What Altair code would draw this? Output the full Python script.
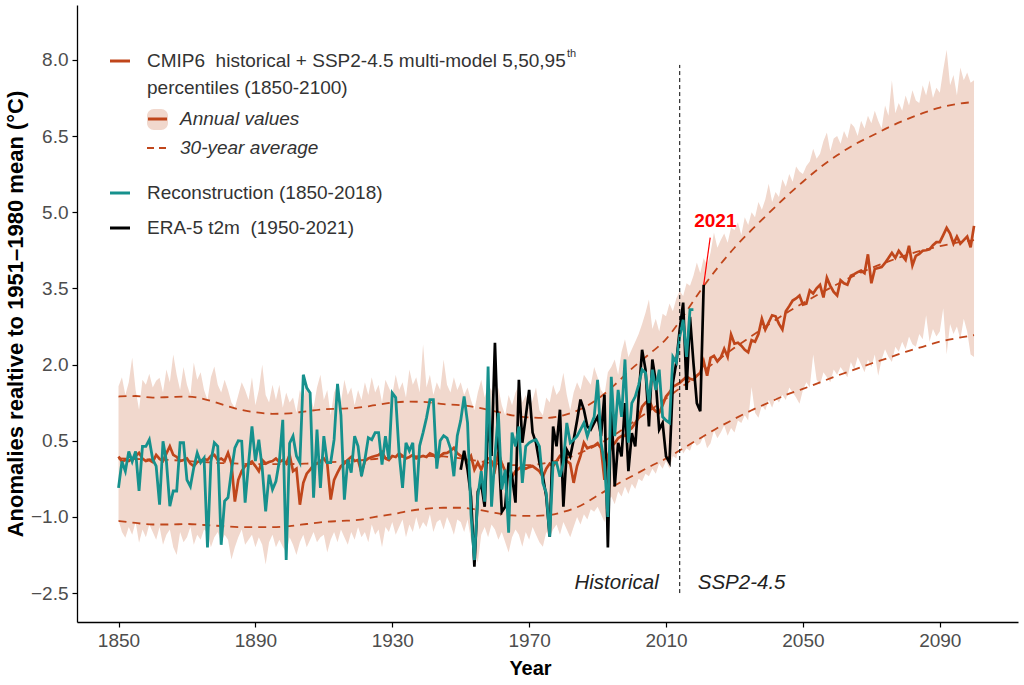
import altair as alt
import pandas as pd

# ---- CMIP6 historical + SSP2-4.5 multi-model percentiles, annual (1850-2100) ----
cmip_years = list(range(1850, 2101))
cmip_p50 = [
    0.19, 0.09, 0.12, 0.10, 0.15, 0.20, 0.26, 0.15, 0.10, 0.12,
    0.08, 0.22, 0.14, 0.10, 0.25, 0.39, 0.22, 0.18, 0.10, 0.12,
    0.15, 0.05, 0.00, 0.08, 0.10, 0.14, 0.12, 0.20, 0.22, 0.12,
    0.15, 0.10, 0.26, 0.05, -0.70, -0.27, -0.10, 0.00, 0.05, 0.09,
    0.00, -0.10, 0.12, 0.05, 0.08, 0.10, 0.15, 0.08, 0.12, 0.05,
    0.22, -0.10, -0.05, -0.76, -0.33, -0.15, -0.07, 0.02, 0.05, 0.10,
    0.15, 0.05, -0.66, -0.27, -0.13, 0.00, 0.05, 0.12, 0.18, 0.10,
    0.12, -0.13, 0.10, 0.15, 0.18, 0.20, 0.22, 0.28, 0.15, 0.12,
    0.20, 0.18, 0.25, 0.20, 0.15, 0.18, 0.22, 0.15, 0.18, 0.20,
    0.18, 0.25, 0.22, 0.15, 0.20, 0.25, 0.26, 0.30, 0.36, 0.25,
    0.20, 0.15, 0.10, 0.20, -0.07, 0.07, -0.07, 0.10, 0.15, 0.10,
    -0.07, 0.28, 0.05, -0.10, -0.20, -0.21, -0.10, -0.05, 0.00, -0.05,
    -0.02, 0.00, -0.05, -0.10, -0.21, -0.05, 0.05, 0.00, 0.10, 0.20,
    0.18, 0.10, 0.05, -0.33, 0.00, 0.20, 0.46, 0.35, 0.38, 0.40,
    0.45, 0.35, -0.27, 0.20, 0.38, 0.45, 0.55, 0.59, 0.60, 0.70,
    0.75, 0.85, 0.95, 1.17, 1.25, 1.31, 1.15, 1.08, 1.05, 1.20,
    1.37, 1.45, 1.56, 1.60, 1.64, 1.70, 1.76, 1.72, 1.70, 1.78,
    1.84, 2.06, 1.78, 2.13, 2.17, 2.06, 2.14, 2.31, 2.15, 2.59,
    2.41, 2.43, 2.37, 2.29, 2.24, 2.48, 2.45, 2.60, 2.90, 2.69,
    2.83, 2.97, 2.95, 2.80, 2.69, 3.05, 3.15, 3.26, 3.30, 3.36,
    3.18, 3.20, 3.46, 3.40, 3.50, 3.57, 3.32, 3.71, 3.55, 3.43,
    3.36, 3.66, 3.60, 3.57, 3.75, 3.78, 3.82, 3.85, 3.80, 4.17,
    3.60, 3.88, 3.90, 3.92, 4.00, 4.10, 4.20, 4.10, 4.24, 4.15,
    4.06, 4.34, 3.95, 4.14, 4.18, 4.24, 4.25, 4.27, 4.35, 4.41,
    4.41, 4.55, 4.69, 4.58, 4.38, 4.52, 4.38, 4.45, 4.52, 4.31,
    4.73,
]
cmip_p95 = [
    1.57, 1.75, 1.40, 1.65, 2.14, 1.50, 1.11, 1.70, 1.60, 1.82,
    1.55, 1.68, 1.74, 1.45, 1.90, 1.65, 2.20, 1.80, 1.50, 1.95,
    1.60, 1.40, 2.04, 1.70, 1.85, 1.50, 1.30, 1.75, 1.96, 1.60,
    1.45, 1.70, 1.50, 1.25, 1.15, 1.40, 1.65, 1.50, 1.30, 1.75,
    1.20, 1.50, 2.00, 1.40, 1.25, 1.60, 1.30, 1.60, 1.15, 1.45,
    1.25, 1.35, 1.05, 1.50, 1.30, 1.65, 1.40, 1.15, 1.55, 1.80,
    1.30, 1.50, 1.00, 1.45, 1.60, 1.25, 1.70, 1.40, 1.55, 1.20,
    1.50, 1.30, 1.65, 1.40, 1.75, 1.45, 1.60, 1.25, 1.70, 1.55,
    1.40, 1.80, 1.50, 1.65, 1.35, 1.90, 1.60, 1.75, 1.45, 2.40,
    1.55, 1.80, 1.40, 1.65, 1.50, 2.10, 1.60, 1.45, 1.75, 1.50,
    1.65, 1.40, 1.55, 1.30, 1.10, 1.45, 1.70, 1.35, 1.60, 1.50,
    1.25, 1.55, 1.20, 1.00, 1.40, 1.20, 1.45, 1.60, 1.25, 1.40,
    1.15, 1.30, 1.55, 1.10, 1.00, 1.35, 1.25, 1.60, 1.40, 1.50,
    1.84, 1.40, 1.10, 1.45, 1.65, 1.50, 1.80, 1.70, 1.60, 1.95,
    1.75, 1.50, 1.40, 1.85, 1.95, 2.10, 1.80, 2.25, 2.50, 2.15,
    2.30, 2.45, 2.60, 2.80, 3.02, 3.28, 2.70, 2.90, 2.65, 3.00,
    2.95, 3.20, 3.05, 3.30, 3.45, 3.35, 3.60, 3.55, 3.75, 4.01,
    3.80, 4.10, 3.95, 4.20, 4.60, 4.30, 4.45, 4.58, 4.40, 4.70,
    4.65, 4.80, 4.55, 4.90, 4.75, 5.00, 4.90, 5.20, 5.05, 5.25,
    5.56, 5.20, 5.40, 5.30, 5.65, 5.50, 5.75, 5.60, 5.90, 5.80,
    5.75, 5.91, 6.00, 6.25, 6.05, 6.15, 6.40, 6.57, 6.20, 6.45,
    6.50, 6.35, 6.60, 6.45, 6.75, 6.68, 6.50, 6.80, 6.65, 6.90,
    6.75, 7.00, 6.80, 6.65, 7.10, 6.90, 7.60, 6.95, 7.15, 7.00,
    7.30, 7.10, 7.40, 7.20, 7.15, 7.50, 7.30, 7.60, 7.25, 7.45,
    7.35, 7.80, 8.20, 7.50, 7.70, 7.30, 7.85, 7.60, 7.75, 7.55,
    7.60,
]
cmip_p05 = [
    -1.06, -1.30, -1.41, -1.20, -1.35, -1.10, -1.51, -1.25, -1.40, -1.15,
    -1.30, -1.45, -1.20, -1.55, -1.35, -1.25, -1.60, -1.75, -1.30, -1.50,
    -1.40, -1.20, -1.55, -1.35, -1.45, -1.25, -1.31, -1.60, -1.40, -1.30,
    -1.50, -1.35, -1.45, -1.84, -1.60, -1.40, -1.25, -1.55, -1.45, -1.35,
    -1.60, -1.40, -1.55, -1.94, -1.50, -1.35, -1.60, -1.45, -1.59, -1.70,
    -1.40, -1.55, -1.75, -1.50, -1.35, -1.60, -1.45, -1.30, -1.50, -1.40,
    -1.35, -1.70, -1.45, -1.30, -1.50, -1.25, -1.40, -1.55, -1.30, -1.45,
    -1.20, -1.40, -1.30, -1.50, -1.15, -1.35, -1.25, -1.60, -1.20, -1.30,
    -1.10, -1.35, -1.20, -1.05, -1.40, -1.15, -1.30, -1.00, -1.25, -1.10,
    -1.20, -0.95, -1.30, -1.10, -1.05, -1.25, -1.00, -1.15, -1.35, -1.05,
    -1.10, -1.30, -1.05, -1.45, -1.70, -1.90, -1.35, -1.20, -1.40, -1.15,
    -1.25, -1.45, -1.30, -1.50, -1.70, -1.40, -1.25, -1.35, -1.59, -1.30,
    -1.45, -1.20, -1.35, -1.50, -1.59, -1.30, -1.40, -1.25, -1.15, -1.35,
    -1.10, -1.25, -1.40, -1.20, -1.00, -1.15, -0.95, -1.05, -0.85, -0.90,
    -0.80, -0.95, -1.10, -0.70, -0.60, -0.75, -0.50, -0.60, -0.40, -0.55,
    -0.35, -0.45, -0.25, -0.30, -0.15, -0.20, -0.05, -0.15, 0.05, -0.05,
    0.10, -0.05, 0.20, 0.15, 0.46, 0.25, 0.35, 0.30, 0.50, 0.40,
    0.45, 0.60, 0.35, 0.45, 0.70, 0.55, 0.66, 0.80, 0.60, 0.75,
    0.66, 0.90, 0.85, 1.00, 0.90, 1.56, 1.05, 0.95, 1.20, 1.10,
    1.30, 1.15, 1.35, 1.25, 1.40, 1.30, 1.55, 1.45, 1.35, 1.23,
    1.50, 1.65, 1.55, 2.20, 1.70, 1.60, 1.85, 1.75, 1.65, 1.90,
    1.80, 1.95, 1.85, 1.75, 2.05, 1.90, 2.15, 2.00, 1.85, 2.10,
    1.95, 2.20, 1.78, 2.10, 2.30, 2.15, 2.05, 2.35, 2.25, 2.45,
    2.30, 2.55, 2.40, 2.35, 2.60, 2.50, 2.97, 2.45, 2.70, 2.55,
    2.65, 3.11, 2.20, 2.80, 2.60, 2.75, 2.50, 2.90, 2.65, 2.20,
    2.15,
]

# ---- 30-year running averages of the 5th / 50th / 95th percentiles ----
avg_years = list(range(1850, 2101, 5))
avg_p95 = [
    1.37, 1.38, 1.35, 1.36, 1.37, 1.32, 1.22, 1.12, 1.06, 1.03,
    1.04, 1.08, 1.12, 1.13, 1.15, 1.20, 1.25, 1.27, 1.26, 1.22,
    1.20, 1.15, 1.08, 1.00, 0.96, 0.95, 1.00, 1.12, 1.32, 1.60,
    1.92, 2.20, 2.50, 2.95, 3.45, 3.90, 4.30, 4.65, 4.98, 5.30,
    5.60, 5.88, 6.12, 6.33, 6.50, 6.67, 6.82, 6.95, 7.06, 7.13,
    7.17,
]
avg_p50 = [
    0.15, 0.14, 0.13, 0.12, 0.10, 0.08, 0.06, 0.05, 0.04, 0.04,
    0.04, 0.05, 0.07, 0.09, 0.11, 0.14, 0.17, 0.19, 0.20, 0.19,
    0.15, 0.10, 0.05, 0.02, 0.02, 0.06, 0.14, 0.26, 0.42, 0.62,
    0.85, 1.08, 1.33, 1.58, 1.83, 2.08, 2.33, 2.56, 2.79, 3.01,
    3.21, 3.40, 3.58, 3.75, 3.90, 4.03, 4.15, 4.25, 4.33, 4.40,
    4.45,
]
avg_p05 = [
    -1.08, -1.12, -1.15, -1.15, -1.14, -1.16, -1.18, -1.20, -1.20, -1.20,
    -1.18, -1.14, -1.10, -1.08, -1.06, -1.00, -0.95, -0.88, -0.84, -0.82,
    -0.82, -0.86, -0.92, -0.97, -0.98, -0.97, -0.90, -0.78, -0.58, -0.38,
    -0.20, -0.02, 0.15, 0.35, 0.55, 0.75, 0.93, 1.10, 1.25, 1.40,
    1.52, 1.65, 1.78, 1.90, 2.02, 2.13, 2.25, 2.35, 2.45, 2.52,
    2.58,
]

# ---- Reconstruction (1850-2018) ----
recon_years = list(range(1850, 2019))
recon = [
    -0.43, 0.09, -0.10, 0.29, 0.09, 0.29, -0.49, 0.39, 0.39, 0.52,
    0.13, 0.00, -0.76, 0.49, 0.09, -0.79, -0.49, -0.49, 0.46, 0.46,
    -0.27, -0.40, -0.03, 0.26, 0.07, 0.16, -1.60, 0.09, 0.46, 0.39,
    -1.55, -0.69, -0.62, -0.10, 0.36, 0.50, 0.49, -0.72, 0.05, 0.78,
    0.10, 0.52, -0.05, -0.89, -0.17, -0.46, -0.30, 0.10, 0.91, -1.85,
    0.45, 0.59, 0.20, 0.07, 1.80, 1.54, 1.44, -0.62, 0.72, -0.43,
    0.59, 0.07, 0.07, 0.52, 1.62, 1.00, -0.66, 0.13, -0.13, 0.59,
    0.39, -0.20, 0.13, 0.56, 0.52, 0.66, 0.66, 0.03, 0.59, 0.13,
    1.44, 1.35, 0.25, -0.43, 0.46, 0.30, 0.46, -0.70, 0.40, 0.66,
    0.95, 1.31, 1.31, -0.05, 0.50, 0.60, 0.55, 0.35, -0.20, 0.60,
    0.90, 1.37, 0.85, -0.95, -1.85, -0.60, -0.10, -0.70, 1.96, -0.80,
    0.19, 1.05, -0.46, -0.07, -1.31, 0.66, 0.39, 0.78, -0.33, 0.39,
    0.46, 0.50, 0.52, 0.39, -0.33, -0.53, -1.39, 0.07, 0.07, -0.21,
    0.07, 0.85, 0.46, 0.52, 0.59, 0.72, 0.85, 0.59, 0.80, 0.97,
    1.70, 0.46, 0.07, -1.00, 1.76, 0.59, 1.50, 0.97, 2.10, 0.46,
    1.24, 1.37, 1.60, 1.90, 1.84, 1.24, 1.90, 1.50, 1.90, 0.97,
    0.90, 0.85, 2.15, 2.04, 2.55, 2.88, 2.15, 3.08, 3.08,
]

# ---- ERA-5 2 m temperature (1950-2021) ----
era5_years = list(range(1950, 2022))
era5 = [
    -0.07, 0.30, -0.07, -0.60, -1.98, -0.50, -0.35, -0.80, 0.90, 0.20,
    2.43, 0.40, -0.90, -0.80, 0.07, -0.20, -0.72, 1.70, 0.46, 0.97,
    1.50, 0.66, 0.46, 0.07, -0.20, -0.60, -1.39, 0.78, 0.39, 1.11,
    -0.80, 0.32, 0.19, 0.52, 0.90, 1.31, 1.11, 0.78, 0.72, 0.85,
    0.97, 0.59, 1.41, -1.60, 1.24, -0.40, 0.46, 0.19, 1.24, -0.10,
    0.65, 0.39, 1.37, 2.29, 1.90, 0.78, 2.10, 1.67, 0.72, 0.85,
    0.19, 0.07, 1.64, 2.04, 2.69, 3.22, 1.50, 2.94, 2.04, 1.24,
    1.08, 3.57,
]

x_ticks = [1850, 1890, 1930, 1970, 2010, 2050, 2090]
y_ticks = [-2.5, -1.0, 0.5, 2.0, 3.5, 5.0, 6.5, 8.0]
scenario_break = 2014

RUST = "#C0461B"
BAND = "#F1D8CD"
TEAL = "#16918D"
TEXT = "#333333"
FONT = "Liberation Sans"

band_df = pd.DataFrame({"year": cmip_years, "lo": cmip_p05, "hi": cmip_p95})
median_df = pd.DataFrame({"year": cmip_years, "v": cmip_p50})
avg_df = pd.concat([
    pd.DataFrame({"year": avg_years, "v": avg_p95, "s": "p95"}),
    pd.DataFrame({"year": avg_years, "v": avg_p50, "s": "p50"}),
    pd.DataFrame({"year": avg_years, "v": avg_p05, "s": "p05"}),
])
recon_df = pd.DataFrame({"year": recon_years, "v": recon})
era5_df = pd.DataFrame({"year": era5_years, "v": era5})

xs = alt.Scale(domain=[1837.87, 2112.85], nice=False, zero=False)
ys = alt.Scale(domain=[-3.07, 9.08], nice=False, zero=False)
x_axis = alt.Axis(values=x_ticks, format="d", title="Year", titlePadding=8,
                  titleX=453)
y_axis = alt.Axis(values=y_ticks, format=".1f",
                  title="Anomalies realtive to 1951\u20131980 mean (\u00b0C)",
                  titlePadding=3, titleFontSize=22)

X = alt.X("year:Q", scale=xs, axis=x_axis)
Y = alt.Y("v:Q", scale=ys, axis=y_axis)

band = alt.Chart(band_df).mark_area(color=BAND, opacity=1).encode(
    x=X, y=alt.Y("lo:Q", scale=ys, axis=y_axis), y2="hi:Q")

avg_lines = alt.Chart(avg_df).mark_line(
    color=RUST, strokeWidth=1.8, strokeDash=[8, 6], interpolate="monotone"
).encode(x=X, y=Y, detail="s:N")

median = alt.Chart(median_df).mark_line(color=RUST, strokeWidth=2.7).encode(x=X, y=Y)
era_line = alt.Chart(era5_df).mark_line(color="black", strokeWidth=2.7).encode(x=X, y=Y)
recon_line = alt.Chart(recon_df).mark_line(color=TEAL, strokeWidth=2.8).encode(x=X, y=Y)

one = alt.Data(values=[{}])

split_rule = alt.Chart(one).mark_rule(color="black", strokeWidth=1, strokeDash=[4, 3]).encode(
    x=alt.datum(scenario_break), y=alt.datum(-2.5), y2=alt.datum(7.9))

hist_label = alt.Chart(one).mark_text(
    text="Historical", font=FONT, fontSize=20.5, fontStyle="italic", color="#222222",
    align="right", baseline="middle", dx=-21
).encode(x=alt.datum(scenario_break), y=alt.datum(-2.3))
ssp_label = alt.Chart(one).mark_text(
    text="SSP2-4.5", font=FONT, fontSize=20.5, fontStyle="italic", color="#222222",
    align="left", baseline="middle", dx=18
).encode(x=alt.datum(scenario_break), y=alt.datum(-2.3))

# 2021 call-out
pointer = alt.Chart(one).mark_rule(color="#FF0000", strokeWidth=1.2).encode(
    x=alt.datum(2021), y=alt.datum(3.57), x2=alt.datum(2022.9), y2=alt.datum(4.5))
pointer_label = alt.Chart(one).mark_text(
    text="2021", font=FONT, fontSize=19, fontWeight="bold", color="#FF0000",
    align="center", baseline="middle"
).encode(x=alt.datum(2024.4), y=alt.datum(4.82))

# ---- legend, drawn in pixel space ----
def key_line(x1, x2, y, color, width=3, dash=None):
    kw = dict(color=color, strokeWidth=width)
    if dash:
        kw["strokeDash"] = dash
    return alt.Chart(one).mark_rule(**kw).encode(
        x=alt.value(x1), x2=alt.value(x2), y=alt.value(y))

def key_text(x, y, label, size=19, style="normal"):
    return alt.Chart(one).mark_text(
        text=label, font=FONT, fontSize=size, fontStyle=style, color=TEXT,
        align="left", baseline="middle"
    ).encode(x=alt.value(x), y=alt.value(y))

legend = [
    key_line(33, 53, 56, RUST),
    key_text(70, 56, "CMIP6\u00a0 historical + SSP2-4.5 multi-model 5,50,95"),
    key_text(490, 49, "th", size=11),
    key_text(70, 83, "percentiles (1850-2100)"),
    alt.Chart(one).mark_rect(color=BAND, cornerRadius=7).encode(
        x=alt.value(70), x2=alt.value(91), y=alt.value(104), y2=alt.value(125)),
    key_line(71, 90, 114, RUST, width=3),
    key_text(103, 114, "Annual values", style="italic"),
    key_line(70, 94, 143, RUST, width=1.8, dash=[7, 5]),
    key_text(103, 143, "30-year average", style="italic"),
    key_line(33, 53, 188, TEAL),
    key_text(70, 188, "Reconstruction (1850-2018)"),
    key_line(33, 53, 223, "black"),
    key_text(70, 223, "ERA-5 t2m\u00a0 (1950-2021)"),
]

chart = alt.layer(
    band, avg_lines, median, era_line, recon_line, split_rule,
    hist_label, ssp_label, pointer, pointer_label, *legend
).properties(
    width=941, height=617,
    padding={"left": 77, "top": 5, "right": 6, "bottom": 63},
    autosize=alt.AutoSizeParams(type="none"),
).configure_view(stroke=None).configure_axis(
    grid=False,
    domainColor="black", domainWidth=1.3,
    tickColor="black", tickWidth=1.2, tickSize=5,
    labelFont=FONT, labelFontSize=19, labelColor="#4d4d4d", labelPadding=4,
    titleFont=FONT, titleFontSize=20, titleFontWeight="bold", titleColor="black",
)

chart.save("out.html", embed_options={"renderer": "svg", "actions": False})
